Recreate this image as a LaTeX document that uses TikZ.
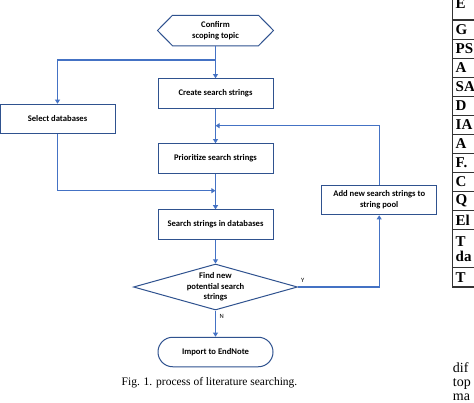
\documentclass[tikz,border=0pt]{standalone}
\usepackage{fontspec}
\setmainfont{Liberation Serif}
\newfontfamily\carlito{Carlito}
\usetikzlibrary{arrows.meta,shapes.geometric}
\definecolor{linkblue}{HTML}{4472C4}
\definecolor{boxc}{HTML}{2F528F}
\begin{document}
\begin{tikzpicture}[x=1pt,y=-1pt,
  flowbox/.style={draw=boxc, line width=1pt, fill=white, minimum width=115pt, minimum height=29.5pt,
    inner sep=1pt, align=center, text=black, font=\carlito\bfseries\fontsize{8.6}{10.7}\selectfont},
  flowtext/.style={align=center, text=black, inner sep=0pt, font=\carlito\bfseries\fontsize{8.6}{10.7}\selectfont},
  arrowline/.style={draw=linkblue, line width=1.4pt, -{Triangle[width=5pt,length=4.2pt]}},
  lab/.style={font=\carlito\fontsize{6.5}{7}\selectfont, inner sep=0pt, text=black},
  tabline/.style={draw=black!80, line width=1.1pt},
  tabtext/.style={anchor=west, inner sep=0pt, font=\bfseries\fontsize{15}{15}\selectfont},
  bodytext/.style={anchor=north west, inner sep=0pt, align=left, font=\fontsize{14}{14}\selectfont}]
\useasboundingbox (0,0) rectangle (474,402);
\clip (0,0) rectangle (474,402);
\fill[white] (0,0) rectangle (474,402);

% flowchart nodes
\node[flowbox, draw=none, fill=none] (hex) at (215.5,30.5) {Confirm\\scoping topic};
\draw[boxc, line width=1pt] (hex.west) -- ([xshift=15pt]hex.north west) -- ([xshift=-15pt]hex.north east)
  -- (hex.east) -- ([xshift=-15pt]hex.south east) -- ([xshift=15pt]hex.south west) -- cycle;
\node[flowbox] (create) at (215.5,93.5) {Create search strings};
\node[flowbox] (select) at (57.5,119) {Select databases};
\node[flowbox] (prio) at (215.5,158.5) {Prioritize search strings};
\node[flowbox] (search) at (215.5,224.6) {Search strings in databases};
\node[flowbox] (add) at (379.2,200) {Add new search strings to\\string pool};
\node[diamond, draw=boxc, line width=1pt, fill=white, minimum width=164pt, minimum height=46pt, inner sep=0pt] (dec) at (215.5,287) {};
\node[flowtext] (dectext) at (dec) {Find new\\potential search\\strings};
\node[flowbox, rounded corners=14.7pt] (imp) at (215.5,352) {Import to EndNote};

% connectors
\coordinate (b1) at (215.5,60);
\coordinate (fb) at (215.5,125.7);
\coordinate (j1) at (215.5,190.7);
\draw[arrowline] (hex.south) -- (create.north);
\draw[arrowline] (b1) -| (select.north);
\draw[arrowline] (create.south) -- (prio.north);
\draw[arrowline] (add.north) |- (fb);
\draw[arrowline] (prio.south) -- (search.north);
\draw[arrowline] (select.south) |- (j1);
\draw[arrowline] (search.south) -- (dec.north);
\draw[arrowline] (dec.east) -| (add.south);
\draw[arrowline] (dec.south) -- (imp.north);
\node[lab] (ylab) at (302.7,280) {Y};
\node[lab] (nlab) at (221.7,316.7) {N};

% caption
\node[inner sep=0pt, font=\fontsize{11.5}{13}\selectfont] (cap) at (209.5,383) {Fig. 1. process of literature searching.};

% cropped table on the right
\draw[tabline] (452.5,-5) -- (452.5,287) -- (480,287);
\foreach \k in {0,...,11} {\draw[tabline] (452.5,{20+\k*19.07}) -- (480,{20+\k*19.07});}
\draw[tabline] (452.5,267.9) -- (480,267.9);
\node[tabtext] (t0) at (455.5,4) {E};
\node[tabtext] (t1) at (455.5,29.5) {G};
\node[tabtext] (t2) at (455.5,48.6) {PS};
\node[tabtext] (t3) at (455.5,67.7) {A};
\node[tabtext] (t4) at (455.5,86.7) {SA};
\node[tabtext] (t5) at (455.5,105.8) {D};
\node[tabtext] (t6) at (455.5,124.9) {IA};
\node[tabtext] (t7) at (455.5,143.9) {A};
\node[tabtext] (t8) at (455.5,163.0) {F.};
\node[tabtext] (t9) at (455.5,182.1) {C};
\node[tabtext] (t10) at (455.5,201.2) {Q};
\node[tabtext] (t11) at (455.5,220.3) {El};
\node[tabtext] (t12) at (455.5,241.5) {T};
\node[tabtext] (t13) at (455.5,256.5) {da};
\node[tabtext] (t14) at (455.5,277.5) {T};

% cropped body text
\node[bodytext] (body) at (452.7,362.5) {dif\\top\\ma};
\end{tikzpicture}
\end{document}
